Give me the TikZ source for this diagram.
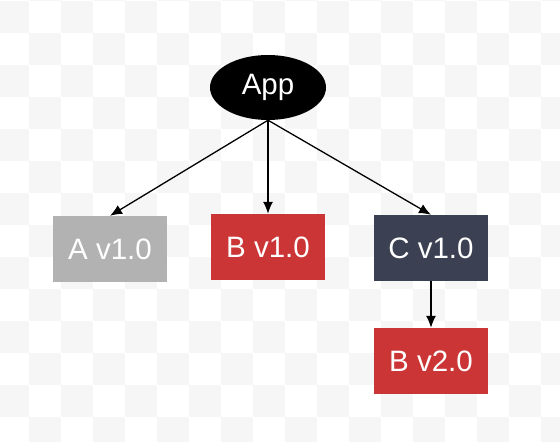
\documentclass[tikz,border=0pt]{standalone}
\usepackage{fontspec}
\setmainfont{Liberation Sans}
\usetikzlibrary{shapes.geometric,arrows.meta}
\definecolor{checker}{HTML}{F6F6F6}
\definecolor{boxred}{HTML}{CC3535}
\definecolor{boxgray}{HTML}{B2B2B2}
\definecolor{boxdark}{HTML}{3B4152}
\tikzset{
  lbl/.style={text=white, font=\fontsize{29.5}{35}\selectfont, inner sep=0pt},
  pkg/.style={lbl, rectangle, minimum width=114pt, minimum height=66pt},
  root/.style={lbl, ellipse, fill=black, minimum width=116pt, minimum height=65pt},
  dep/.style={draw=black, line width=1.3pt, -{Latex[length=12pt,width=10pt]}}
}
\begin{document}
\begin{tikzpicture}[x=1pt,y=-1pt]
\useasboundingbox (0,0) rectangle (560,442);
\fill[white] (0,0) rectangle (560,442);
\begin{scope}
  \clip (0,0) rectangle (560,442);
  \foreach \i in {0,2,...,16} \foreach \j in {0,2,...,12}
    \fill[checker] ({\i*32-3},{\j*32+1}) rectangle ++(32,32);
  \foreach \i in {1,3,...,17} \foreach \j in {-1,1,...,13}
    \fill[checker] ({\i*32-3},{\j*32+1}) rectangle ++(32,32);
\end{scope}
\node[root] (app) at (268,87.5) {App};
\node[pkg, fill=boxgray] (a1) at (110,249) {A v1.0};
\node[pkg, fill=boxred] (b1) at (268,247) {B v1.0};
\node[pkg, fill=boxdark] (c1) at (431,248) {C v1.0};
\node[pkg, fill=boxred] (b2) at (431,361) {B v2.0};
\draw[dep] (app.south) -- (a1.north);
\draw[dep] (app.south) -- (b1.north);
\draw[dep] (app.south) -- (c1.north);
\draw[dep] (c1.south) -- (b2.north);
\end{tikzpicture}
\end{document}
